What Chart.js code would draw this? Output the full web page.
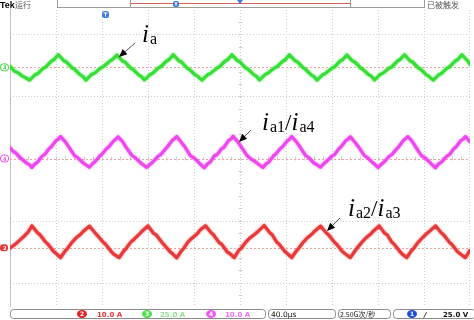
<!DOCTYPE html>
<html><head><meta charset="utf-8">
<script src="https://cdn.jsdelivr.net/npm/chart.js@4"></script>
<style>html,body{margin:0;padding:0;background:#fff;}canvas{display:block;}</style>
</head><body>
<canvas id="c" width="474" height="320"></canvas>
<script>
// ---- data (time in µs, current in A) ----
const ia_t = [0,4,6,11,13,
17,22,24,29,31,36,38,42,47,49,54,56,61,63,
66,71,73,79,81,87,89,93,98,100,105,107,112,114,
117,122,124,129,131,136,138,142,147,149,154,156,161,163,
167,172,174,180,182,187,189,193,198,200,205,207,212,214,
217,222,224,230,232,237,239,243,248,250,255,257,262,264,
267,272,274,280,282,287,289,293,298,300,305,307,312,314,
317,322,324,330,332,337,339,343,348,350,355,357,362,364,
368,373,375,380,382,387,389,393,398,400];
const ia_v = [0.4,-1.6,-1.9,-3.6,-4.0,
-5.2,-2.9,-2.6,-0.3,0.1,2.5,3.0,5.1,2.6,2.2,-0.2,-0.7,-3.0,-3.5,
-5.2,-2.8,-2.5,-0.2,0.2,2.6,3.1,5.0,2.5,2.1,-0.3,-0.8,-3.1,-3.6,
-5.1,-2.8,-2.4,-0.2,0.2,2.5,3.0,5.1,2.6,2.2,-0.3,-0.8,-3.0,-3.5,
-5.2,-2.9,-2.5,-0.3,0.2,2.5,3.0,5.1,2.6,2.2,-0.3,-0.7,-3.0,-3.5,
-5.1,-2.8,-2.4,-0.2,0.2,2.4,2.9,5.1,2.6,2.2,-0.2,-0.8,-3.1,-3.6,
-5.2,-2.9,-2.5,-0.3,0.1,2.5,3.0,5.0,2.5,2.1,-0.3,-0.8,-3.0,-3.5,
-5.1,-2.8,-2.4,-0.2,0.2,2.6,3.1,5.1,2.6,2.2,-0.2,-0.7,-3.0,-3.5,
-5.2,-2.9,-2.5,-0.3,0.1,2.5,3.0,5.1,2.6,1.2];

const ia14_t = [0,3,5,9,11,15,17,
19,22,24,28,30,34,36,40,42,44,48,51,56,59,63,65,
69,72,74,78,80,84,86,90,92,94,98,101,106,109,113,115,
119,122,124,129,131,135,137,141,143,145,149,152,157,160,164,166,
169,172,174,178,180,184,186,190,192,194,198,201,206,209,214,216,
220,223,225,229,231,235,237,241,243,245,249,252,257,260,264,266,
270,273,275,280,282,286,288,292,294,296,300,303,308,311,315,317,
320,323,325,330,332,336,338,342,344,346,350,353,358,361,365,367,
370,373,375,380,382,386,388,392,394,396,400];
const ia14_v = [1.75,1.1,0.9,0.1,-0.2,-0.8,-1.0,
-1.45,-0.8,-0.6,0.4,0.6,1.6,1.9,2.9,3.1,3.55,2.7,1.9,0.5,0.1,-0.6,-0.9,
-1.4,-0.8,-0.5,0.4,0.7,1.6,1.9,2.8,3.1,3.5,2.7,1.8,0.5,0.1,-0.6,-0.9,
-1.45,-0.9,-0.6,0.4,0.6,1.5,1.9,2.9,3.2,3.55,2.6,1.9,0.4,0.1,-0.6,-1.0,
-1.5,-0.8,-0.6,0.5,0.6,1.6,1.8,2.9,3.1,3.6,2.7,1.9,0.5,0.0,-0.6,-0.9,
-1.45,-0.8,-0.6,0.4,0.7,1.6,1.9,2.8,3.1,3.55,2.7,1.9,0.5,0.1,-0.7,-0.9,
-1.4,-0.8,-0.5,0.4,0.6,1.6,1.9,2.9,3.1,3.5,2.6,1.9,0.5,0.1,-0.6,-0.9,
-1.45,-0.9,-0.6,0.4,0.6,1.5,1.9,2.9,3.2,3.55,2.7,1.8,0.4,0.1,-0.6,-1.0,
-1.5,-0.8,-0.6,0.4,0.6,1.6,1.9,2.9,3.1,3.55,2.7];

const ia23_t = [0,4,6,10,12,16,
19,24,26,31,33,38,40,44,48,50,54,57,62,64,
69,74,76,81,83,88,90,95,99,101,105,108,113,115,
120,125,127,132,134,139,141,145,149,151,155,158,163,165,
170,175,177,182,184,189,191,195,199,201,205,208,213,216,
221,226,228,232,234,239,241,245,249,251,255,258,263,265,
270,275,277,282,284,289,291,296,300,302,306,309,314,316,
321,326,328,332,334,339,341,345,349,351,355,358,363,365,
370,375,377,382,384,389,391,396,400];
const ia23_v = [-0.05,0.5,0.8,1.5,1.8,2.6,
3.55,2.4,2.1,0.9,0.6,-0.6,-0.9,-1.6,-0.5,-0.1,0.9,1.5,2.3,2.7,
3.5,2.4,2.0,0.9,0.6,-0.6,-1.0,-1.6,-0.5,-0.1,0.9,1.4,2.3,2.7,
3.55,2.3,2.1,0.9,0.5,-0.6,-0.9,-1.65,-0.5,-0.1,1.0,1.5,2.3,2.8,
3.55,2.4,2.1,0.8,0.6,-0.7,-0.9,-1.6,-0.4,-0.1,0.9,1.5,2.2,2.7,
3.6,2.4,2.1,0.9,0.6,-0.6,-0.9,-1.6,-0.5,-0.1,0.9,1.5,2.3,2.7,
3.5,2.4,2.1,0.9,0.6,-0.6,-0.9,-1.6,-0.5,0.0,0.9,1.5,2.3,2.7,
3.55,2.3,2.1,0.9,0.6,-0.6,-1.0,-1.6,-0.5,-0.1,0.9,1.5,2.4,2.7,
3.55,2.4,2.1,0.9,0.6,-0.6,-0.9,-1.6,-0.4];

// scope settings shown in the status bar
const TIME_PER_DIV = 40;        // µs/div
const H_DIVS = 10;
const CH_SCALE = {ch2: 10, ch3: 25, ch4: 10};      // A/div
const CH_POS = {ch2: -1.44, ch3: 1.47, ch4: 0};     // div above centre
const HALF_DIVS = 2.395;        // visible half height in divisions

const COL = {ch2:'#e8393a', ch3:'#33e033', ch4:'#ee46ee'};

const toXY = (t, v) => t.map((x, i) => ({x, y: v[i]}));
function axisFor(ch){
  return {type:'linear', display:false,
    min:(-HALF_DIVS - CH_POS[ch]) * CH_SCALE[ch],
    max:( HALF_DIVS - CH_POS[ch]) * CH_SCALE[ch]};
}

function line(ctx,x1,y1,x2,y2){ctx.beginPath();ctx.moveTo(x1,y1);ctx.lineTo(x2,y2);ctx.stroke();}
function rrect(ctx,x,y,w,h,r){
  ctx.beginPath();
  ctx.moveTo(x+r,y);ctx.lineTo(x+w-r,y);ctx.quadraticCurveTo(x+w,y,x+w,y+r);
  ctx.lineTo(x+w,y+h-r);ctx.quadraticCurveTo(x+w,y+h,x+w-r,y+h);
  ctx.lineTo(x+r,y+h);ctx.quadraticCurveTo(x,y+h,x,y+h-r);
  ctx.lineTo(x,y+r);ctx.quadraticCurveTo(x,y,x+r,y);ctx.closePath();
}
function badge(ctx,cx,cy,fill,txt){
  ctx.fillStyle=fill; ctx.beginPath(); ctx.ellipse(cx,cy,5,4,0,0,Math.PI*2); ctx.fill();
  ctx.fillStyle='#fff'; ctx.font='bold 6px "DejaVu Sans"'; ctx.textAlign='center'; ctx.textBaseline='middle';
  ctx.fillText(txt,cx,cy+0.5); ctx.textAlign='left'; ctx.textBaseline='alphabetic';
}
function arrow(ctx,x1,y1,x2,y2){
  ctx.strokeStyle='#555'; ctx.lineWidth=1; ctx.setLineDash([]);
  const a=Math.atan2(y2-y1,x2-x1), L=8, W=3.5, c=Math.cos(a), s=Math.sin(a);
  line(ctx,x1,y1,x2-L*c*0.6,y2-L*s*0.6);
  ctx.fillStyle='#000'; ctx.beginPath(); ctx.moveTo(x2,y2);
  ctx.lineTo(x2-L*c+W*s, y2-L*s-W*c); ctx.lineTo(x2-L*c-W*s, y2-L*s+W*c); ctx.closePath(); ctx.fill();
}
function mathLabel(ctx,x,y,parts){
  let cx=x; ctx.fillStyle='#000';
  for(const p of parts){ ctx.font=p.f; ctx.fillText(p.t,cx,y+(p.dy||0)); cx+=ctx.measureText(p.t).width+(p.gap||0); }
}

const deco = {
  id:'deco',
  beforeDatasetsDraw(chart){
    const {ctx, chartArea:a, scales} = chart;
    const xs = scales.x;
    ctx.save();
    const cy=(a.top+a.bottom)/2, dpx=(a.bottom-a.top)/(2*HALF_DIVS);
    // graticule
    ctx.strokeStyle='#cfcfcf'; ctx.lineWidth=1; ctx.setLineDash([1,2]);
    for(let k=1;k<H_DIVS;k++){ const px=Math.round(xs.getPixelForValue(k*TIME_PER_DIV))+0.5; line(ctx,px,a.top,px,a.bottom); }
    for(const k of [-2,-1,1,2]){ const py=Math.round(cy+k*dpx)+0.5; line(ctx,a.left,py,a.right,py); }
    line(ctx,a.right-0.5,a.top,a.right-0.5,a.bottom);
    ctx.setLineDash([]);
    ctx.strokeStyle='#c9c0c0'; line(ctx,a.left+0.5,a.top-2,a.left+0.5,a.bottom);
    // centre ticks
    ctx.strokeStyle='#cfcfcf';
    const xc=Math.round(xs.getPixelForValue(H_DIVS/2*TIME_PER_DIV))+0.5;
    for(let y=cy; y<a.bottom; y+=dpx/5){ line(ctx,xc-2,Math.round(y)+0.5,xc+2,Math.round(y)+0.5); }
    for(let y=cy; y>a.top; y-=dpx/5){ line(ctx,xc-2,Math.round(y)+0.5,xc+2,Math.round(y)+0.5); }
    const dx=(xs.getPixelForValue(TIME_PER_DIV)-xs.getPixelForValue(0))/5;
    for(let k=1;k<H_DIVS*5;k++){ const px=Math.round(a.left+k*dx)+0.5; line(ctx,px,cy-2,px,cy+2); }
    // channel reference lines
    ctx.strokeStyle='#f2a2a2'; ctx.setLineDash([2,2]);
    for(const id of ['y3','y4','y2']){ const py=Math.round(scales[id].getPixelForValue(0))+0.5; line(ctx,a.left,py,a.right,py); }
    ctx.restore();
  },
  beforeDatasetDraw(chart,args){
    const ds=chart.data.datasets[args.index];
    chart.ctx.shadowColor=ds.borderColor; chart.ctx.shadowBlur=2;
  },
  afterDatasetDraw(chart){ chart.ctx.shadowBlur=0; chart.ctx.shadowColor='transparent'; },
  afterDraw(chart){
    const {ctx, scales} = chart;
    ctx.save(); ctx.setLineDash([]);
    // ---- top status bar ----
    ctx.fillStyle='#000'; ctx.font='bold 9px "Liberation Sans"'; ctx.fillText('Tek',0,8);
    ctx.fillStyle='#555'; ctx.font='8px "Noto Sans CJK SC"'; ctx.fillText('运行',15,8);
    ctx.strokeStyle='#9a9a9a'; ctx.lineWidth=1;
    ctx.strokeRect(57.5,-1.5,73,9); ctx.strokeRect(130.5,-1.5,220,9); ctx.strokeRect(350.5,-1.5,74,9);
    ctx.strokeStyle='#e05a5a'; line(ctx,131,3.5,350,3.5);
    ctx.fillStyle='#3b7be6'; rrect(ctx,173,1,6,6,2); ctx.fill();
    ctx.fillStyle='#fff'; ctx.fillRect(175.5,2.5,1,3.5); ctx.fillRect(174.5,2.5,3,1);
    ctx.fillStyle='#3b7be6'; rrect(ctx,102,11,7,7,2.5); ctx.fill();
    ctx.fillStyle='#fff'; ctx.fillRect(105,12.5,1,4); ctx.fillRect(103.5,12.5,4,1);
    ctx.fillStyle='#3b7be6'; ctx.beginPath(); ctx.moveTo(237,0); ctx.lineTo(243,0); ctx.lineTo(240,4); ctx.fill();
    ctx.fillStyle='#555'; ctx.font='8px "Noto Sans CJK SC"'; ctx.fillText('已被触发',427,8);
    // ---- channel markers at left ----
    const m3=scales.y3.getPixelForValue(0), m4=scales.y4.getPixelForValue(0), m2=scales.y2.getPixelForValue(0);
    ctx.fillStyle='#fff'; ctx.strokeStyle=COL.ch3; rrect(ctx,0.5,m3-3.5,8,7,3); ctx.fill(); ctx.stroke();
    ctx.fillStyle=COL.ch3; ctx.font='bold 5px "DejaVu Sans"'; ctx.fillText('3',3,m3+2);
    ctx.fillStyle='#fff'; ctx.strokeStyle=COL.ch4; rrect(ctx,0.5,m4-3.5,8,7,3); ctx.fill(); ctx.stroke();
    ctx.fillStyle=COL.ch4; ctx.fillText('4',3,m4+2);
    ctx.fillStyle=COL.ch2; rrect(ctx,0,m2-3.5,8,7,3); ctx.fill();
    ctx.fillStyle='#fff'; ctx.fillText('2',3,m2+2);
    // ---- bottom status bar ----
    ctx.strokeStyle='#8a8a8a'; ctx.lineWidth=1;
    rrect(ctx,10.5,309.5,255,9,3); ctx.stroke();
    rrect(ctx,268.5,309.5,67,9,3); ctx.stroke();
    rrect(ctx,338.5,309.5,52,9,3); ctx.stroke();
    rrect(ctx,393.5,309.5,82,9,3); ctx.stroke();
    badge(ctx,82,314,'#e02424','2');
    ctx.font='bold 7px "DejaVu Sans"'; ctx.fillStyle='#e83a3a'; ctx.fillText('10.0 A',97,317);
    badge(ctx,147,314,'#4ede4e','3');
    ctx.font='bold 7px "DejaVu Sans"'; ctx.fillStyle='#8ee08e'; ctx.fillText('25.0 A',160,317);
    badge(ctx,211,314,'#ee5cee','4');
    ctx.font='bold 7px "DejaVu Sans"'; ctx.fillStyle='#f070f0'; ctx.fillText('10.0 A',225,317);
    ctx.fillStyle='#111'; ctx.font='7.5px "DejaVu Sans"'; ctx.fillText('40.0µs',271,317);
    ctx.fillStyle='#8ab0e8'; ctx.fillRect(274,318,3,1);
    ctx.fillStyle='#111'; ctx.font='7px "Noto Sans CJK SC"'; ctx.fillText('2.50G次/秒',340,317);
    badge(ctx,412,314,'#1f4fd0','1');
    ctx.fillStyle='#111'; ctx.font='italic bold 7px "DejaVu Sans"'; ctx.fillText('/',424,317);
    ctx.font='bold 7px "DejaVu Sans"'; ctx.fillText('25.0 V',443,317);
    // ---- annotations ----
    const I='italic 25px "Liberation Serif"', S='16px "Liberation Serif"', SL='23px "Liberation Serif"';
    mathLabel(ctx,142,42,[{t:'i',f:I,gap:1},{t:'a',f:S,dy:2}]);
    mathLabel(ctx,262,130,[{t:'i',f:I,gap:1},{t:'a1',f:S,dy:2},{t:'/',f:SL},{t:'i',f:I,gap:1},{t:'a4',f:S,dy:2}]);
    mathLabel(ctx,348,216,[{t:'i',f:I,gap:1},{t:'a2',f:S,dy:2},{t:'/',f:SL},{t:'i',f:I,gap:1},{t:'a3',f:S,dy:2}]);
    arrow(ctx,135,43,119,57);
    arrow(ctx,251,130,239,142);
    arrow(ctx,340,218,327,231);
    ctx.restore();
  }
};

const ds = (label, t, v, ch) => ({label, data: toXY(t, v), yAxisID: 'y' + ch.slice(2),
  borderColor: COL[ch], borderWidth: 3, pointRadius: 0, tension: 0,
  borderJoinStyle: 'round', borderCapStyle: 'round', fill: false});

new Chart(document.getElementById('c'), {
  type: 'line',
  data: { datasets: [
    ds('ia', ia_t, ia_v, 'ch3'),
    ds('ia1/ia4', ia14_t, ia14_v, 'ch4'),
    ds('ia2/ia3', ia23_t, ia23_v, 'ch2')
  ]},
  options: {
    responsive: false, animation: false, devicePixelRatio: 1,
    layout: {padding: {left: 10, right: 4, top: 10, bottom: 13}},
    plugins: {legend: {display: false}, tooltip: {enabled: false}},
    scales: {
      x: {type: 'linear', display: false, min: 0, max: H_DIVS * TIME_PER_DIV},
      y3: axisFor('ch3'), y4: axisFor('ch4'), y2: axisFor('ch2')
    }
  },
  plugins: [deco]
});
</script>
</body></html>
